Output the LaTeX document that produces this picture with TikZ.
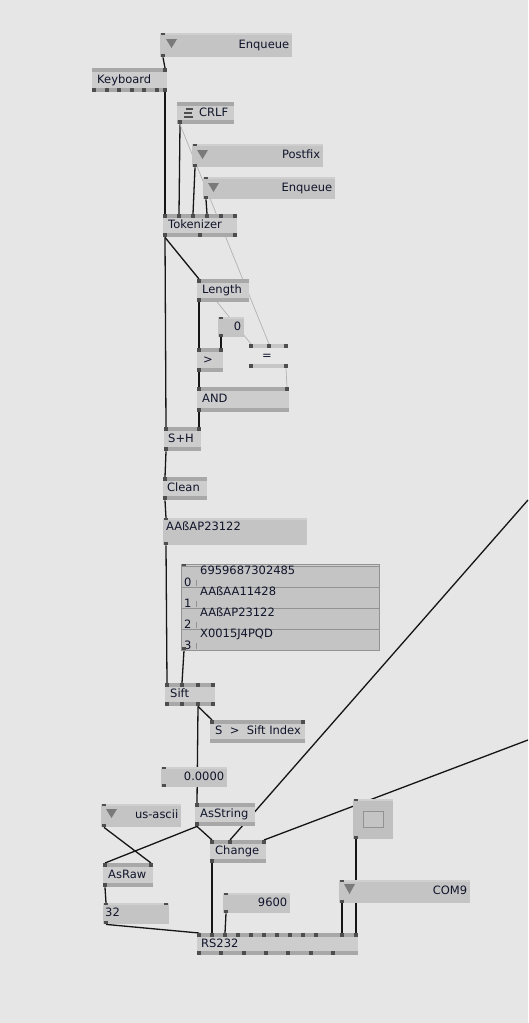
\documentclass[tikz,border=0pt]{standalone}
\usepackage{fontspec}
\setmainfont{DejaVu Sans}
\usetikzlibrary{calc}
\definecolor{bgc}{HTML}{E6E6E6}
\definecolor{nodec}{HTML}{CDCDCD}
\definecolor{stripc}{HTML}{A8A8A8}
\definecolor{eqc}{HTML}{C6C6C6}
\definecolor{ioc}{HTML}{C4C4C4}
\definecolor{iotopc}{HTML}{CFCFCF}
\definecolor{rowc}{HTML}{929292}
\definecolor{pinc}{HTML}{4E4E4E}
\definecolor{textc}{HTML}{10142A}
\definecolor{linkc}{HTML}{151515}
\definecolor{glinkc}{HTML}{B2B2B2}
\definecolor{tric}{HTML}{7A7A7A}
\definecolor{togc}{HTML}{C0C0C0}
\pgfdeclarelayer{links}
\pgfsetlayers{links,main}

\begin{document}
\begin{tikzpicture}[
    x=1pt, y=-1pt,
    font=\fontsize{11.5}{13}\selectfont,
    strip/.style={fill=stripc},
    vnode/.style={rectangle, anchor=north west, fill=nodec, inner sep=0pt, minimum height=23pt,
        path picture={
            \fill[strip] (path picture bounding box.north west) rectangle ([yshift=-4pt]path picture bounding box.north east);
            \fill[strip] (path picture bounding box.south west) rectangle ([yshift=4pt]path picture bounding box.south east);
        }},
    eqnode/.style={vnode, fill=none, strip/.style={fill=eqc}},
    iobox/.style={rectangle, anchor=north west, fill=ioc, inner sep=0pt, minimum height=22pt,
        path picture={
            \fill[iotopc] (path picture bounding box.north west) rectangle ([yshift=-2pt]path picture bounding box.north east);
        }},
    txt/.style={anchor=west, xshift=5pt, inner sep=0pt, text=textc, text height=8pt, text depth=2pt},
    val/.style={anchor=east, xshift=-3pt, inner sep=0pt, text=textc, text height=8pt, text depth=2pt},
    cell/.style={inner sep=0pt, text=textc, text height=8pt, text depth=2pt},
    pin/.style={fill=pinc},
    row/.style={fill=ioc, draw=rowc, line width=0.8pt},
    tri/.style={fill=tric},
    icon/.style={draw=pinc, line width=1.6pt},
    link/.style={draw=linkc, line width=1.3pt},
    glink/.style={draw=glinkc, line width=0.7pt}
]

    % --- background ---
    \begin{pgfonlayer}{links}
        \fill[bgc] (0,0) rectangle (528,1023);
    \end{pgfonlayer}

    % --- 1. Keyboard input ---
    \node[iobox, minimum width=132pt, minimum height=24pt, label={[val]east:Enqueue}] (enq1) at (160,33) {};
    \fill[tri] ($(enq1.north west)+(6,6)$) -- ++(11,0) -- ++(-5.5,9) -- cycle;
    \node[vnode, minimum width=75pt, minimum height=24pt, label={[txt]west:Keyboard}] (kb) at (92,68) {};

    % --- 2. Tokenizer inputs ---
    \node[vnode, minimum width=57pt, minimum height=22pt, label={[txt, xshift=17pt]west:CRLF}] (crlf) at (177,102) {};
    \draw[icon] ($(crlf.north west)+(9,7)$) -- ++(7,0);
    \draw[icon] ($(crlf.north west)+(7,11)$) -- ++(8,0);
    \draw[icon] ($(crlf.north west)+(7,15)$) -- ++(9,0);
    \node[iobox, minimum width=131pt, minimum height=23pt, label={[val]east:Postfix}] (pfx) at (192,144) {};
    \fill[tri] ($(pfx.north west)+(5,6)$) -- ++(11,0) -- ++(-5.5,9) -- cycle;
    \node[iobox, minimum width=132pt, label={[val]east:Enqueue}] (enq2) at (203,177) {};
    \fill[tri] ($(enq2.north west)+(5,6)$) -- ++(11,0) -- ++(-5.5,9) -- cycle;
    \node[vnode, minimum width=74pt, label={[txt]west:Tokenizer}] (tok) at (163,214) {};

    % --- 3. Length check ---
    \node[vnode, minimum width=52pt, label={[txt]west:Length}] (len) at (197,279) {};
    \node[iobox, minimum width=26pt, minimum height=20pt, label={[val]east:0}] (zero) at (218,317) {};
    \node[vnode, minimum width=26pt, minimum height=24pt, label={[txt, xshift=1pt]west:>}] (gt) at (197,348) {};
    \node[eqnode, minimum width=39pt, minimum height=24pt, label={[txt, xshift=8pt]west:=}] (eq) at (249,344) {};
    \node[vnode, minimum width=92pt, minimum height=25pt, label={[txt]west:AND}] (andgate) at (197,387) {};

    % --- 4. Sample, clean, sift ---
    \node[vnode, minimum width=37pt, minimum height=24pt, label={[txt, xshift=-1pt]west:S+H}] (sh) at (164,427) {};
    \node[vnode, minimum width=44pt, label={[txt, xshift=-1pt]west:Clean}] (clean) at (163,477) {};
    \node[iobox, minimum width=144pt, minimum height=27pt,
        label={[cell, anchor=north west, xshift=3pt, yshift=-4pt]north west:AAßAP23122}] (str) at (163,518) {};

    \node[iobox, minimum width=198pt, minimum height=86pt, draw=rowc] (spr) at (181,564) {};
    \foreach \v [count=\i from 0] in {6959687302485, AAßAA11428, AAßAP23122, X0015J4PQD} {
        \draw[row] ($(spr.north west)+(0,2+21*\i)$) rectangle ++(198,21);
        \draw[rowc, line width=0.8pt] ($(spr.north west)+(15,16+21*\i)$) -- ++(0,6);
        \node[cell, anchor=north west] (r\i) at ($(spr.north west)+(19,2+21*\i)$) {\v};
        \node[cell, anchor=base west] (ix\i) at ($(spr.north west)+(3,22+21*\i)$) {\i};
    }

    \node[vnode, minimum width=50pt, label={[txt]west:Sift}] (sift) at (165,683) {};
    \node[vnode, minimum width=95pt, label={[txt]west:S~~>~~Sift Index}] (sidx) at (210,720) {};

    % --- 5. Output to serial port ---
    \node[iobox, minimum width=66pt, minimum height=20pt, label={[val]east:0.0000}] (fval) at (161,767) {};
    \node[vnode, minimum width=60pt, label={[txt]west:AsString}] (asstr) at (195,803) {};
    \node[iobox, minimum width=80pt, minimum height=23pt, label={[val]east:us-ascii}] (ascii) at (101,804) {};
    \fill[tri] ($(ascii.north west)+(5,5)$) -- ++(11,0) -- ++(-5.5,9) -- cycle;
    \node[vnode, minimum width=56pt, label={[txt]west:Change}] (chg) at (210,840) {};
    \node[vnode, minimum width=50pt, minimum height=24pt, label={[txt]west:AsRaw}] (asraw) at (103,863) {};
    \node[iobox, minimum width=66pt, minimum height=21pt, label={[txt, xshift=-3pt]west:32}] (n32) at (103,903) {};
    \node[iobox, minimum width=67pt, minimum height=20pt, label={[val]east:9600}] (baud) at (223,893) {};
    \node[iobox, minimum width=40pt, minimum height=40pt, fill=togc] (tog) at (353,799) {};
    \draw[rowc, fill=ioc, line width=0.8pt] ($(tog.center)+(-10,-8)$) rectangle ++(20,16);
    \node[iobox, minimum width=131pt, minimum height=23pt, label={[val]east:COM9}] (com) at (339,880) {};
    \fill[tri] ($(com.north west)+(5,4)$) -- ++(11,0) -- ++(-5.5,10) -- cycle;
    \node[vnode, minimum width=161pt, minimum height=22pt, label={[txt, xshift=-1pt]west:RS232}] (rs) at (197,933) {};

    \coordinate (far1) at (528,500);
    \coordinate (far2) at (528,740);

    % --- pins ---
    \foreach \n in {enq1, pfx, enq2, zero, str, spr, fval, ascii, n32, baud, tog, com} {
        \fill[pin] ([xshift=1pt]\n.north west) rectangle ++(4,2);
        \fill[pin] ([xshift=1pt]\n.south west) rectangle ++(4,-3);
    }
    \fill[pin] ([xshift=-5pt]n32.north east) rectangle ++(4,2);
    \fill[pin] ([xshift=71pt]kb.north west) rectangle ++(4,4);
    \foreach \p in {0,12.5,25,37.5,50,62.5,71}
        \fill[pin] ([xshift=\p pt]kb.south west) rectangle ++(4,-4);
    \fill[pin] ([xshift=1pt]crlf.south west) rectangle ++(4,-4);
    \foreach \p in {0,14,28,42,56,70}
        \fill[pin] ([xshift=\p pt]tok.north west) rectangle ++(4,4);
    \foreach \p in {0,35,70}
        \fill[pin] ([xshift=\p pt]tok.south west) rectangle ++(4,-4);
    \fill[pin] (len.north west) rectangle ++(4,4);
    \fill[pin] (len.south west) rectangle ++(4,-4);
    \foreach \p in {0,22}
        \fill[pin] ([xshift=\p pt]gt.north west) rectangle ++(4,4);
    \fill[pin] (gt.south west) rectangle ++(4,-4);
    \foreach \p in {0,18,35}
        \fill[pin] ([xshift=\p pt]eq.north west) rectangle ++(4,4);
    \foreach \p in {0,35}
        \fill[pin] ([xshift=\p pt]eq.south west) rectangle ++(4,-4);
    \foreach \p in {0,88}
        \fill[pin] ([xshift=\p pt]andgate.north west) rectangle ++(4,4);
    \fill[pin] (andgate.south west) rectangle ++(4,-4);
    \foreach \p in {0,33}
        \fill[pin] ([xshift=\p pt]sh.north west) rectangle ++(4,4);
    \fill[pin] (sh.south west) rectangle ++(4,-4);
    \fill[pin] (clean.north west) rectangle ++(4,4);
    \fill[pin] (clean.south west) rectangle ++(4,-4);
    \foreach \p in {0,15,31,46} {
        \fill[pin] ([xshift=\p pt]sift.north west) rectangle ++(4,4);
        \fill[pin] ([xshift=\p pt]sift.south west) rectangle ++(4,-4);
    }
    \foreach \p in {0,91}
        \fill[pin] ([xshift=\p pt]sidx.north west) rectangle ++(4,4);
    \fill[pin] (asstr.north west) rectangle ++(4,4);
    \fill[pin] (asstr.south west) rectangle ++(4,-4);
    \foreach \p in {0,18,52}
        \fill[pin] ([xshift=\p pt]chg.north west) rectangle ++(4,4);
    \fill[pin] (chg.south west) rectangle ++(4,-4);
    \foreach \p in {0,46}
        \fill[pin] ([xshift=\p pt]asraw.north west) rectangle ++(4,4);
    \fill[pin] (asraw.south west) rectangle ++(4,-4);
    \foreach \p in {0,13,...,117,143,157}
        \fill[pin] ([xshift=\p pt]rs.north west) rectangle ++(4,4);
    \foreach \p in {0,22.3,...,156}
        \fill[pin] ([xshift=\p pt]rs.south west) rectangle ++(4,-4);

    % --- links ---
    \begin{pgfonlayer}{links}
        \draw[link] ([xshift=3pt]enq1.south west) -- ([xshift=73pt]kb.north west);
        \draw[link] ([xshift=73pt]kb.south west) -- ([xshift=2pt]tok.north west);
        \draw[link] ([xshift=3pt]crlf.south west) -- ([xshift=16pt]tok.north west);
        \draw[link] ([xshift=3pt]pfx.south west) -- ([xshift=30pt]tok.north west);
        \draw[link] ([xshift=3pt]enq2.south west) -- ([xshift=44pt]tok.north west);
        \draw[glink] ([xshift=3pt]crlf.south west) -- ([xshift=20pt]eq.north west);
        \draw[glink] ([xshift=2pt]tok.south west) -- ([xshift=2pt]eq.north west);
        \draw[link] ([xshift=2pt]tok.south west) -- ([xshift=2pt]len.north west);
        \draw[link] ([xshift=2pt]tok.south west) -- ([xshift=2pt]sh.north west);
        \draw[link] ([xshift=2pt]len.south west) -- ([xshift=2pt]gt.north west);
        \draw[link] ([xshift=3pt]zero.south west) -- ([xshift=24pt]gt.north west);
        \draw[link] ([xshift=2pt]gt.south west) -- ([xshift=2pt]andgate.north west);
        \draw[glink] ([xshift=37pt]eq.south west) -- ([xshift=90pt]andgate.north west);
        \draw[link] ([xshift=2pt]andgate.south west) -- ([xshift=35pt]sh.north west);
        \draw[link] ([xshift=2pt]sh.south west) -- ([xshift=2pt]clean.north west);
        \draw[link] ([xshift=2pt]clean.south west) -- ([xshift=3pt]str.north west);
        \draw[link] ([xshift=3pt]str.south west) -- ([xshift=2pt]sift.north west);
        \draw[link] ([xshift=3pt]spr.south west) -- ([xshift=17pt]sift.north west);
        \draw[link] ([xshift=33pt]sift.south west) -- ([xshift=2pt]sidx.north west);
        \draw[link] ([xshift=33pt]sift.south west) -- ([xshift=2pt]asstr.north west);
        \draw[link] ([xshift=2pt]asstr.south west) -- ([xshift=2pt]chg.north west);
        \draw[link] ([xshift=2pt]asstr.south west) -- ([xshift=2pt]asraw.north west);
        \draw[link] ([xshift=3pt]ascii.south west) -- ([xshift=48pt]asraw.north west);
        \draw[link] ([xshift=20pt]chg.north west) -- (far1);
        \draw[link] ([xshift=54pt]chg.north west) -- (far2);
        \draw[link] ([xshift=2pt]asraw.south west) -- ([xshift=3pt]n32.north west);
        \draw[link] ([xshift=3pt]n32.south west) -- ([xshift=2pt]rs.north west);
        \draw[link] ([xshift=2pt]chg.south west) -- ([xshift=15pt]rs.north west);
        \draw[link] ([xshift=3pt]baud.south west) -- ([xshift=28pt]rs.north west);
        \draw[link] ([xshift=3pt]com.south west) -- ([xshift=145pt]rs.north west);
        \draw[link] ([xshift=3pt]tog.south west) -- ([xshift=159pt]rs.north west);
    \end{pgfonlayer}

\end{tikzpicture}
\end{document}
